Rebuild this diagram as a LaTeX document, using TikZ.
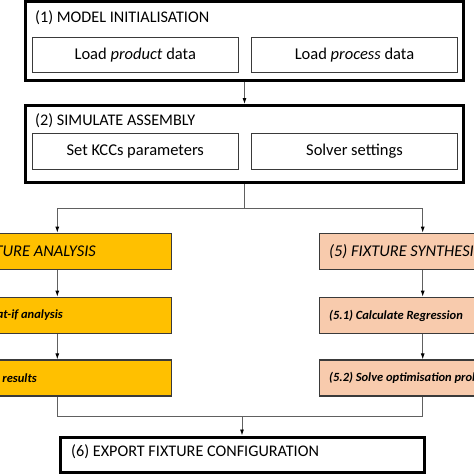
\documentclass[tikz,border=0pt]{standalone}
\usepackage{fontspec}
\setmainfont{Carlito}
\usetikzlibrary{arrows.meta}
\definecolor{yel}{HTML}{FFC000}
\definecolor{sal}{HTML}{F8CBAD}
\definecolor{bord}{HTML}{3A3A3A}
\definecolor{conncol}{HTML}{606060}
\tikzset{
  bigbox/.style={draw=black, line width=3pt, rectangle, inner sep=0pt},
  inbox/.style={draw=bord, line width=1pt, rectangle, inner sep=0pt, font=\fontsize{16.5}{18}\selectfont},
  yelbox/.style={draw=bord, fill=yel, line width=1.2pt, rectangle, inner sep=0pt},
  salbox/.style={draw=bord, fill=sal, line width=1.2pt, rectangle, inner sep=0pt},
  ttl/.style={inner sep=0pt, font=\fontsize{16.2}{18}\selectfont},
  headtxt/.style={inner sep=0pt, font=\fontsize{16.4}{18}\selectfont\itshape},
  subtxt/.style={inner sep=0pt, font=\fontsize{12.5}{14}\selectfont\bfseries\itshape},
  conn/.style={draw=conncol, line width=0.9pt},
  arr/.style={conn, -{Latex[length=6pt,width=4pt,black]}}
}
\begin{document}
\begin{tikzpicture}[x=1pt,y=-1pt]
\useasboundingbox (0,0) rectangle (474,474);
\clip (0,0) rectangle (474,474);
\fill[white] (0,0) rectangle (474,474);
% box 1
\node[bigbox, minimum width=438pt, minimum height=79pt] (b1) at (244.5,41) {};
\node[ttl, anchor=west] (t1) at (35,18) {(1) MODEL INITIALISATION};
\node[inbox, minimum width=205.5pt, minimum height=35.3pt] (b1a) at (135.25,55.3) {Load \textit{product} data};
\node[inbox, minimum width=205.6pt, minimum height=35.3pt] (b1b) at (354.5,55.3) {Load \textit{process} data};
% box 2
\node[bigbox, minimum width=438pt, minimum height=77pt] (b2) at (244.5,144) {};
\node[ttl, anchor=west] (t2) at (35,121) {(2) SIMULATE ASSEMBLY};
\node[inbox, minimum width=205.5pt, minimum height=36pt] (b2a) at (135.25,151.3) {Set KCCs parameters};
\node[inbox, minimum width=205.6pt, minimum height=36pt] (b2b) at (354.5,151.3) {Solver settings};
% left column
\node[yelbox, minimum width=228.8pt, minimum height=36pt] (b4) at (57.3,251.3) {};
\node[yelbox, minimum width=228.8pt, minimum height=36pt] (b41) at (57.3,315.3) {};
\node[yelbox, minimum width=228.8pt, minimum height=36pt] (b42) at (57.3,378) {};
\node[headtxt, anchor=east] (t4) at (96,251.5) {TURE ANALYSIS};
\node[subtxt, anchor=east] (t41) at (63,315.5) {at-if analysis};
\node[subtxt, anchor=east] (t42) at (37,378.2) {results};
% right column
\node[salbox, minimum width=206.8pt, minimum height=36pt] (b5) at (422.7,251.3) {};
\node[salbox, minimum width=206.8pt, minimum height=36pt] (b51) at (422.7,315.3) {};
\node[salbox, minimum width=206.8pt, minimum height=36pt] (b52) at (422.7,378) {};
\node[headtxt, anchor=west] (t5) at (329,251.5) {(5) FIXTURE SYNTHESIS};
\node[subtxt, anchor=west] (t51) at (329,315.5) {(5.1) Calculate Regression};
\node[subtxt, anchor=west] (t52) at (329,378.2) {(5.2) Solve optimisation problem};
% box 6
\node[bigbox, minimum width=364pt, minimum height=35pt] (b6) at (242,454.5) {};
\node[ttl, anchor=west] (t6) at (71,451.5) {(6) EXPORT FIXTURE CONFIGURATION};
% connectors
\coordinate (split) at (244.5,208.3);
\coordinate (merge) at (242,416);
\draw[arr] (b1.south) -- (b2.north);
\draw[conn] (b2.south) -- (split);
\draw[arr] (split) -| (b4.north);
\draw[arr] (split) -| (b5.north);
\draw[arr] (b4.south) -- (b41.north);
\draw[arr] (b41.south) -- (b42.north);
\draw[arr] (b5.south) -- (b51.north);
\draw[arr] (b51.south) -- (b52.north);
\draw[conn] (b42.south) |- (merge);
\draw[conn] (b52.south) |- (merge);
\draw[arr] (merge) -- (b6.north);
\end{tikzpicture}
\end{document}
